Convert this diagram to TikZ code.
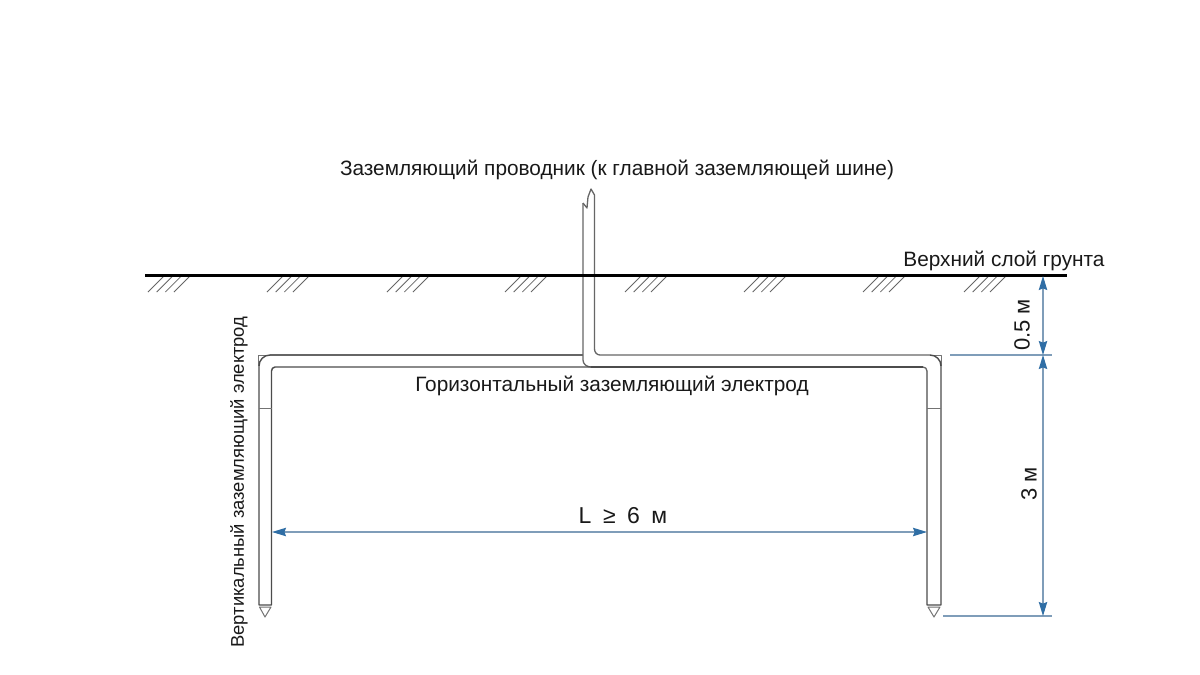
\documentclass[tikz,border=0pt]{standalone}
\usepackage{fontspec}
\setmainfont{Liberation Sans}
\usetikzlibrary{arrows.meta}
\definecolor{dimline}{HTML}{7F9DB9}
\definecolor{dimtip}{HTML}{2F6EA5}
\tikzset{
x=0.5pt, y=-0.5pt, % one unit is one pixel of the reference, y goes down
wire/.style={draw=black!60, line width=0.65pt, line join=round},
rod/.style={draw=black!70, line width=0.7pt, line join=round},
thin wire/.style={draw=black!55, line width=0.5pt, line join=round},
ground/.style={draw=black, line width=1.5pt},
hatch/.style={draw=black!60, line width=0.4pt},
dim/.style={draw=dimline, line width=0.55pt, {Stealth[length=7pt,width=4.2pt,inset=0.8pt,color=dimtip]}-{Stealth[length=7pt,width=4.2pt,inset=0.8pt,color=dimtip]}},
extline/.style={draw=dimline, line width=0.55pt},
label/.style={font=\fontsize{10.4}{12}\selectfont, inner sep=0pt, text=black!90},
}

\begin{document}
\begin{tikzpicture}
        \useasboundingbox[fill=white] (0,0) rectangle (1200,675);

        % ground
        \coordinate (g1) at (145,275);
        \coordinate (g2) at (1067,275);
        \foreach \hx in {148,267,387,505,625,744,863,964}
          \foreach \dx in {0,8.7,17.4,26}
            \draw[hatch] (\hx+\dx,292) -- (\hx+\dx+16,276);

        % conductor and horizontal electrode
        \draw[wire] (583,203) -- (587,208) -- (588,197) -- (591,189) -- (594.5,195)
          -- (594.5,349) to[out=270,in=180] (600,355) -- (930,355);
        \draw[wire] (583,203) -- (583,360) to[out=270,in=180] (591,367) -- (923,367)
          to[out=0,in=90] (927,371);
        \draw[wire] (583,355) -- (270,355);
        \draw[rod] (591,367) -- (275,367) to[out=180,in=90] (271.5,371);
        \draw[rod] (591,367) -- (923,367);
        \draw[ground] (g1) -- (g2);

        % left rod
        \draw[thin wire] (270,355) -- (258.5,355) -- (258.5,366);
        \draw[rod] (270,355) to[out=180,in=90] (259,366) -- (259,605) -- (271.5,605) -- (271.5,371);
        \draw[thin wire] (259,408) -- (271.5,408);
        \draw[thin wire] (259.5,607) -- (265,617) -- (271,607) -- cycle;

        % right rod
        \draw[thin wire] (930,355) -- (941,355) -- (941,366);
        \draw[rod] (930,355) to[out=0,in=90] (941,366) -- (941,605) -- (927,605) -- (927,371);
        \draw[thin wire] (927,408) -- (941,408);
        \draw[thin wire] (928,607) -- (934,617) -- (940,607) -- cycle;

        % dimensions
        \coordinate (d0) at (1043,276);
        \coordinate (d1) at (1043,355);
        \coordinate (d2) at (1043,616);
        \coordinate (e1) at (950,355);
        \coordinate (e1r) at (1052,355);
        \coordinate (e2) at (943,616);
        \coordinate (e2r) at (1052,616);
        \coordinate (la) at (272,532);
        \coordinate (lb) at (927,532);
        \draw[extline] (e1) -- (e1r);
        \draw[extline] (e2) -- (e2r);
        \draw[dim] (d0) -- (d1);
        \draw[dim] (d1) -- (d2);
        \draw[dim] (la) -- (lb);

        % labels
        \node[label] (conductor) at (617,170) {Заземляющий проводник (к главной заземляющей шине)};
        \node[label] (soil) at (1004,261) {Верхний слой грунта};
        \node[label] (horiz) at (612,386) {Горизонтальный заземляющий электрод};
        \node[label, font=\fontsize{11.5}{12}\selectfont] (length) at (623,516) {L\,\,\,≥\,\,\,6\,\,\,м};
        \node[label, rotate=90, font=\fontsize{11}{12}\selectfont] (depth) at (1022,325) {0.5 м};
        \node[label, rotate=90, font=\fontsize{11}{12}\selectfont] (rodlen) at (1029,484) {3 м};
        \node[label, rotate=90, font=\fontsize{9.2}{12}\selectfont] (vert) at (239,482) {Вертикальный заземляющий электрод};
      \end{tikzpicture}
\end{document}
